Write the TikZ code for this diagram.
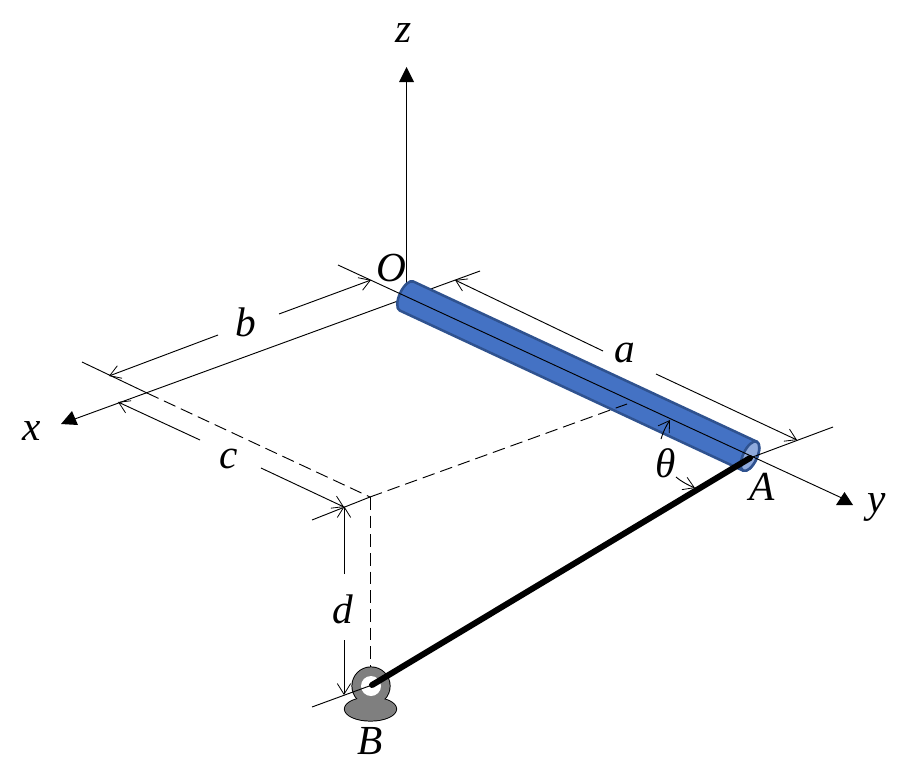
\documentclass[tikz,border=0pt]{standalone}
\usepackage{fontspec}
\setmainfont{Liberation Serif}
\usetikzlibrary{arrows.meta}
\definecolor{cylfill}{HTML}{4472C4}
\definecolor{cylline}{HTML}{2F528F}
\definecolor{capfill}{HTML}{8FAADC}
\definecolor{basegray}{HTML}{7F7F7F}
\tikzset{
  thinline/.style={line width=0.7pt,black},
  dashline/.style={thinline,dash pattern=on 9.5pt off 4.5pt},
  dimline/.style={thinline,-{Straight Barb[length=8pt,width=10pt,line width=0.6pt]}},
  headtri/.style={fill=black,draw=none},
  cyl/.style={fill=cylfill,draw=cylline,line width=1.9pt},
  lbl/.style={inner sep=0pt,font=\fontsize{31}{34}\selectfont\itshape},
  basepart/.style={fill=basegray,draw=black,line width=0.9pt}
}
\begin{document}
\begin{tikzpicture}[x=0.75pt,y=-0.75pt]
\useasboundingbox[fill=white] (0,0) rectangle (902,767);
% key points
\coordinate (O) at (406,296);
\coordinate (A) at (750,458);
\coordinate (B) at (372,685);
\coordinate (zend) at (406,80);
\coordinate (xend) at (72,420);
\coordinate (xext) at (480,271);
\coordinate (yend) at (844,499);
\coordinate (yext) at (338,265);
\coordinate (corner) at (370,497);
\coordinate (cornerext) at (312,520);
\coordinate (leftext) at (82,362);
\coordinate (leftcross) at (147,393);
\coordinate (cylend) at (627,404);
\coordinate (Aext) at (833,427);
\coordinate (Bext) at (312,707);
% axes behind the bar
\draw[thinline] (xend) -- (xext);
\draw[thinline] (O) -- (zend);
% bar
\begin{scope}[shift={(406.5,296)},rotate=-25]
  \draw[cyl] (0,-16) -- (379,-16) arc[start angle=-90,end angle=90,x radius=7,y radius=16] -- (0,16) arc[start angle=90,end angle=270,x radius=7,y radius=16] -- cycle;
  \draw[line width=1.9pt,draw=cylline,fill=capfill] (379,0) ellipse (7 and 16);
\end{scope}
% arrow heads
\draw[headtri] (61,424) -- (72,411) -- (78,425) -- cycle;
\draw[headtri] (836,505) -- (844.5,492) -- (853,505) -- cycle;
\draw[headtri] (399,82) -- (406.5,67) -- (414,82) -- cycle;
% lines over the bar
\draw[thinline] (yext) -- (yend);
\draw[thinline] (Aext) -- (A);
% dashed construction
\draw[thinline] (leftext) -- (leftcross);
\draw[dashline] (leftcross) -- (corner);
\draw[thinline] (cornerext) -- (corner);
\draw[dashline] (corner) -- (cylend);
\draw[dashline] (corner) -- (370,685);
% support: a single silhouette with a thin outline
\draw[basepart] (370.5,709) ellipse (26 and 12);
\draw[basepart] (371,686) circle (19);
\fill[basegray] (370.5,709) ellipse (25.6 and 11.6);
\fill[basegray] (371,686) circle (18.6);
\fill[white] (371,686) circle (10);
\draw[thinline] (Bext) -- (B);
% rod
\draw[line width=4.5pt,black,line cap=round] (B) -- (A);
% dimension arrows
\coordinate (a1) at (603,351); \coordinate (a1t) at (455,280);
\coordinate (a2) at (656,374); \coordinate (a2t) at (797,440);
\coordinate (b1) at (218,335); \coordinate (b1t) at (109,376);
\coordinate (b2) at (279,314); \coordinate (b2t) at (371,280);
\coordinate (c1) at (200,440); \coordinate (c1t) at (118,402);
\coordinate (c2) at (261,468); \coordinate (c2t) at (344,507);
\coordinate (d1) at (344,574); \coordinate (d1t) at (344,506);
\coordinate (d2) at (344,640); \coordinate (d2t) at (344,695);
\coordinate (t1) at (661,439); \coordinate (t1t) at (670,420);
\coordinate (t2) at (676,477); \coordinate (t2t) at (695,488);
\draw[dimline] (a1) -- (a1t);
\draw[dimline] (a2) -- (a2t);
\draw[dimline] (b1) -- (b1t);
\draw[dimline] (b2) -- (b2t);
\draw[dimline] (c1) -- (c1t);
\draw[dimline] (c2) -- (c2t);
\draw[dimline] (d1) -- (d1t);
\draw[dimline] (d2) -- (d2t);
\draw[dimline] (t1) .. controls (663,432) and (666,426) .. (t1t);
\draw[dimline] (t2) .. controls (682,482) and (688,485) .. (t2t);
% labels
\node[lbl] (lz) at (404,33) {z};
\node[lbl] (lO) at (391,268) {O};
\node[lbl] (lb) at (246,322) {b};
\node[lbl] (lx) at (32,431) {x};
\node[lbl] (lc) at (229,459) {c};
\node[lbl] (la) at (625,353) {a};
\node[lbl] (lt) at (666,463) {θ};
\node[lbl] (lA) at (762,487) {A};
\node[lbl] (ly) at (877,507) {y};
\node[lbl] (ld) at (343,609) {d};
\node[lbl] (lB) at (370,741) {B};
\end{tikzpicture}
\end{document}
